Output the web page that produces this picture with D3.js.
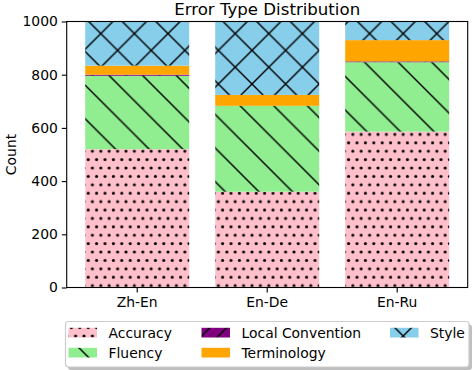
<!DOCTYPE html>
<html><head><meta charset="utf-8">
<script src="https://cdn.jsdelivr.net/npm/d3@7/dist/d3.min.js"></script>
<style>body{margin:0;background:#fff}svg{display:block}text{font-family:"DejaVu Sans",sans-serif;fill:#000}</style>
</head><body><svg id="c" width="474" height="370"></svg>
<script>
const categories = ["Zh-En", "En-De", "En-Ru"];
const seriesNames = ["Accuracy", "Fluency", "Local Convention", "Terminology", "Style"];
const accuracy = [520, 360, 586];
const fluency = [276, 323, 261];
const localConvention = [4, 0, 3];
const terminology = [34, 41, 80];
const style = [166, 276, 70];
const yTicks = [0, 200, 400, 600, 800, 1000];
const colors = ["#FFC0CB", "#90EE90", "#800080", "#FFA500", "#87CEEB"];
const hatches = ["dots", "back", "fwd2", "none", "cross"];

const svg = d3.select("#c");
const L = 66.7, R = 467.7, T = 21.5, B = 287.5;
const x = d3.scaleBand().domain(categories).range([L, R]).paddingInner(0.2).paddingOuter(0.1425);
const y = d3.scaleLinear().domain([0, 1000]).range([B, T]);

// hatch patterns
const defs = svg.append("defs");
const P = 33.6, hw = 1.4;
function pat(id, color, w, h, draw) {
  const p = defs.append("pattern").attr("id", id).attr("patternUnits", "userSpaceOnUse")
    .attr("width", w).attr("height", h).attr("x", 0).attr("y", 0);
  p.append("rect").attr("width", w).attr("height", h).attr("fill", color);
  draw(p);
}
hatches.forEach((hname, i) => {
  const id = "h" + i, c = colors[i];
  if (hname === "dots") {
    const w = 8.4, h = 16.8;
    pat(id, c, w, h, p => {
      [[0,0],[w,0],[0,h],[w,h],[w/2,h/2]].forEach(d => p.append("circle").attr("cx", d[0]).attr("cy", d[1]).attr("r", 1.55).attr("fill", "#000"));
    });
  } else if (hname === "back") {
    pat(id, c, P, P, p => {
      const e = 2;
      p.append("path").attr("d", `M${-e},${-e}L${P+e},${P+e}M${P-e},${-e}L${P+e},${e}M${-e},${P-e}L${e},${P+e}`)
        .attr("stroke", "#000").attr("stroke-width", hw).attr("fill", "none");
    });
  } else if (hname === "fwd2") {
    const q = P / 2;
    pat(id, c, q, q, p => {
      const e = 2;
      p.append("path").attr("d", `M${-e},${q+e}L${q+e},${-e}M${-e},${e}L${e},${-e}M${q-e},${q+e}L${q+e},${q-e}`)
        .attr("stroke", "#000").attr("stroke-width", hw).attr("fill", "none");
    });
  } else if (hname === "cross") {
    pat(id, c, P, P, p => {
      const e = 2;
      p.append("path").attr("d", `M${-e},${-e}L${P+e},${P+e}M${P-e},${-e}L${P+e},${e}M${-e},${P-e}L${e},${P+e}` +
        `M${-e},${P+e}L${P+e},${-e}M${-e},${e}L${e},${-e}M${P-e},${P+e}L${P+e},${P-e}`)
        .attr("stroke", "#000").attr("stroke-width", hw).attr("fill", "none");
    });
  } else {
    pat(id, c, 10, 10, p => {});
  }
});

// stacked data
const rows = categories.map((cat, i) => ({cat, Accuracy: accuracy[i], Fluency: fluency[i],
  "Local Convention": localConvention[i], Terminology: terminology[i], Style: style[i]}));
const stack = d3.stack().keys(seriesNames)(rows);
stack.forEach((layer, si) => {
  svg.append("g").selectAll("rect").data(layer).join("rect")
    .attr("x", d => x(d.data.cat)).attr("width", x.bandwidth())
    .attr("y", d => y(d[1])).attr("height", d => y(d[0]) - y(d[1]))
    .attr("fill", `url(#h${si})`);
});

// frame
svg.append("rect").attr("x", L).attr("y", T).attr("width", R - L).attr("height", B - T)
  .attr("fill", "none").attr("stroke", "#000").attr("stroke-width", 1.1);

// y axis
const yAx = svg.append("g").attr("transform", `translate(${L},0)`)
  .call(d3.axisLeft(y).tickValues(yTicks).tickSize(4.9).tickPadding(4).tickFormat(d3.format("d")));
yAx.select(".domain").remove();
yAx.selectAll("line").attr("stroke-width", 1.1);
yAx.selectAll("text").attr("font-size", "13.9px").attr("font-family", "DejaVu Sans");

// x axis
const xAx = svg.append("g").attr("transform", `translate(0,${B})`)
  .call(d3.axisBottom(x).tickSize(4.9).tickPadding(5));
xAx.select(".domain").remove();
xAx.selectAll("line").attr("stroke-width", 1.1);
xAx.selectAll("text").attr("font-size", "13.9px").attr("font-family", "DejaVu Sans");

// title & label
svg.append("text").attr("x", (L + R) / 2).attr("y", 14.5).attr("text-anchor", "middle")
  .attr("font-size", "16.6px").text("Error Type Distribution");
svg.append("text").attr("transform", `translate(15.5,${(T + B) / 2}) rotate(-90)`)
  .attr("text-anchor", "middle").attr("font-size", "13.9px").text("Count");

// legend
const lg = svg.append("g");
lg.append("rect").attr("x", 68).attr("y", 324.5).attr("width", 404).attr("height", 45.5).attr("rx", 3)
  .attr("fill", "#000").attr("opacity", 0.25);
lg.append("rect").attr("x", 65.5).attr("y", 321.5).attr("width", 403.5).attr("height", 45.5).attr("rx", 3)
  .attr("fill", "#fff").attr("stroke", "#ccc").attr("stroke-width", 1.2);
const legPos = [[68.5, 327.8], [68.5, 347.8], [201.5, 327.8], [201.5, 347.8], [390, 327.8]];
seriesNames.forEach((n, i) => {
  const [px, py] = legPos[i];
  lg.append("rect").attr("x", px).attr("y", py).attr("width", 28.5).attr("height", 9.7).attr("fill", `url(#h${i})`);
  lg.append("text").attr("x", px + 40).attr("y", py + 10.3).attr("font-size", "13.9px").text(n);
});
</script></body></html>
